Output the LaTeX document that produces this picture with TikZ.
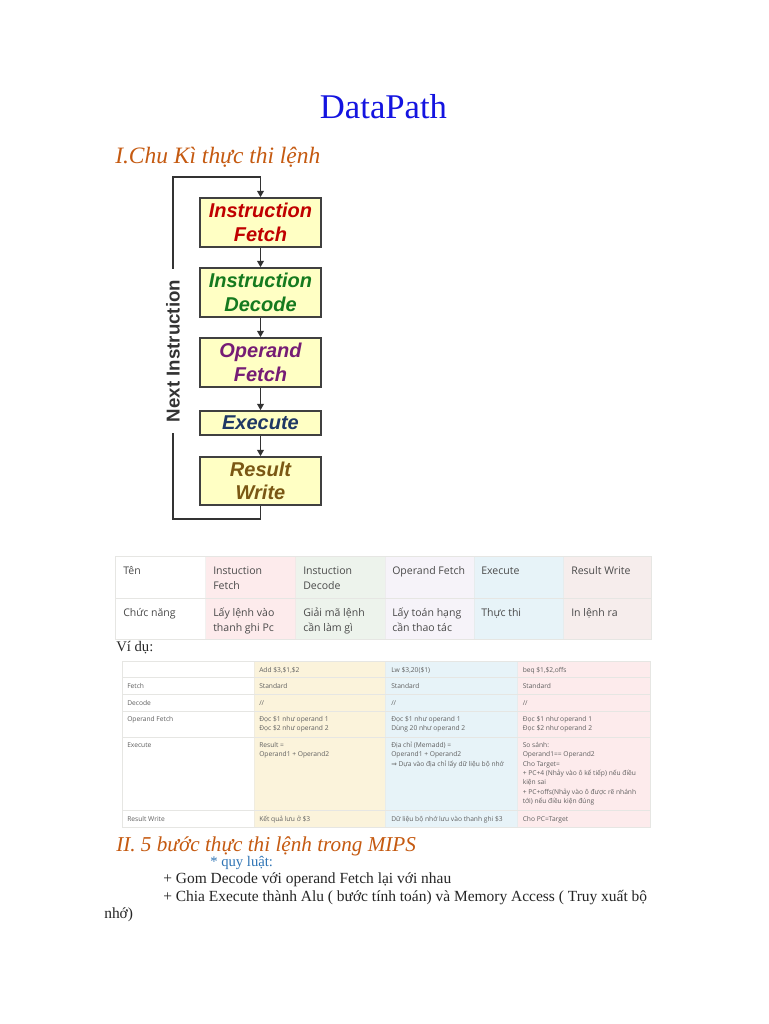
\documentclass[tikz,border=0pt]{standalone}
\usepackage{fontspec}
\setmainfont{Liberation Serif}
\newfontfamily\arialf{Liberation Sans}
\newfontfamily\tblf{Open Sans}
\newfontfamily\dejavuf{DejaVu Sans}
\usetikzlibrary{arrows.meta}
\definecolor{titleblue}{HTML}{1414E0}
\definecolor{headorange}{HTML}{C55A11}
\definecolor{quyblue}{HTML}{2E74B5}
\definecolor{boxfill}{HTML}{FFFFC4}
\definecolor{boxline}{HTML}{404040}
\definecolor{cIF}{HTML}{C00000}
\definecolor{cID}{HTML}{157A1F}
\definecolor{cOF}{HTML}{761C75}
\definecolor{cEX}{HTML}{1F3864}
\definecolor{cRW}{HTML}{7A5714}
\definecolor{flowgray}{HTML}{333333}
\definecolor{tred}{HTML}{FDEBEC}
\definecolor{tgreen}{HTML}{EDF3EC}
\definecolor{tpurple}{HTML}{F6F3F9}
\definecolor{tblue}{HTML}{E7F3F8}
\definecolor{tbrown}{HTML}{F6EDEC}
\definecolor{tyellow}{HTML}{FBF3DB}
\definecolor{gridc}{HTML}{E6E6E3}
\definecolor{tbltext}{HTML}{4A4A4A}
\definecolor{tbltextb}{HTML}{606060}
\tikzset{
  txt/.style={inner sep=0pt, anchor=base west},
  headstyle/.style={txt, text=headorange, font=\itshape\fontsize{16.5}{20}\selectfont},
  bodytxt/.style={txt, font=\fontsize{11.6}{14}\selectfont, text=black!85},
  stepbox/.style={draw=boxline, line width=1.2pt, fill=boxfill, minimum width=90.75pt,
    align=center, inner sep=0pt, font=\arialf\bfseries\itshape\fontsize{15}{17.6}\selectfont},
  flow/.style={draw=flowgray, line width=1.3pt, -{Triangle[length=4.8pt,width=5pt]}},
  loopline/.style={draw=flowgray, line width=1.3pt},
  tone/.style={txt, align=left, text=tbltext, font=\tblf\fontsize{7.9}{11.25}\selectfont},
  ttwo/.style={txt, align=left, text=tbltextb, font=\tblf\fontsize{5}{7}\selectfont},
  gridline/.style={draw=gridc, line width=0.6pt}
}
\begin{document}
\begin{tikzpicture}[x=0.75pt,y=-0.75pt]
\fill[white] (0,0) rectangle (768,1024);
\useasboundingbox (0,0) rectangle (768,1024);

% Title and heading
\node[inner sep=0pt, anchor=base, text=titleblue, font=\fontsize{26}{30}\selectfont] (title) at (383.5,118) {DataPath};
\node[headstyle, font=\itshape\fontsize{17.6}{21}\selectfont] (h1) at (115,163) {I.Chu Kì thực thi lệnh};

% Flowchart
\node[stepbox, minimum height=36.75pt, text=cIF] (IF) at (260.5,222.5) {Instruction\\Fetch};
\node[stepbox, minimum height=36.75pt, text=cID] (ID) at (260.5,292.5) {Instruction\\Decode};
\node[stepbox, minimum height=36.75pt, text=cOF] (OF) at (260.5,362.5) {Operand\\Fetch};
\node[stepbox, minimum height=18pt, text=cEX] (EX) at (260.5,423) {Execute};
\node[stepbox, minimum height=36pt, text=cRW] (RW) at (260.5,481) {Result\\Write};
\draw[flow] (IF) -- (ID);
\draw[flow] (ID) -- (OF);
\draw[flow] (OF) -- (EX);
\draw[flow] (EX) -- (RW);
\coordinate (lb) at (260.5,519);
\coordinate (lbl) at (173,519);
\coordinate (ltl) at (173,177);
\coordinate (lt) at (260.5,177);
\draw[loopline] (RW.south) -- (lb) -- (lbl) -- (ltl) -- (lt);
\draw[flow] (lt) -- (IF.north);
\node[rotate=90, fill=white, inner xsep=8pt, inner ysep=2pt, text=flowgray,
  font=\arialf\bfseries\fontsize{14}{16}\selectfont] (next) at (173,351) {Next Instruction};

% Table 1
\fill[tred] (205.5,556) rectangle (295.5,639);
\fill[tgreen] (295.5,556) rectangle (385,639);
\fill[tpurple] (385,556) rectangle (474,639);
\fill[tblue] (474,556) rectangle (563.5,639);
\fill[tbrown] (563.5,556) rectangle (651,639);
\draw[gridline] (115,556) rectangle (651,639);
\draw[gridline] (115,598) -- (651,598);
\foreach \cx in {205.5,295.5,385,474,563.5} { \draw[gridline, draw opacity=0.5] (\cx,556) -- (\cx,639); }
\node[tone] (a11) at (123,574) {Tên};
\node[tone] (a12) at (213,589) {Instuction\\Fetch};
\node[tone] (a13) at (303,589) {Instuction\\Decode};
\node[tone] (a14) at (392,574) {Operand Fetch};
\node[tone] (a15) at (481,574) {Execute};
\node[tone] (a16) at (571,574) {Result Write};
\node[tone] (a21) at (123,616) {Chức năng};
\node[tone] (a22) at (213,631) {Lấy lệnh vào\\thanh ghi Pc};
\node[tone] (a23) at (303,631) {Giải mã lệnh\\cần làm gì};
\node[tone] (a24) at (392,631) {Lấy toán hạng\\cần thao tác};
\node[tone] (a25) at (481,616) {Thực thi};
\node[tone] (a26) at (571,616) {In lệnh ra};

\node[bodytxt, font=\fontsize{11}{13}\selectfont] (vidu) at (116,651) {Ví dụ:};

% Table 2
\fill[tyellow] (254,661) rectangle (385,827.5);
\fill[tblue] (385,661) rectangle (517.5,827.5);
\fill[tred] (517.5,661) rectangle (650,827.5);
\draw[gridline] (122,661) rectangle (650,827.5);
\foreach \ry in {677.5,694,711,737,810} { \draw[gridline] (122,\ry) -- (650,\ry); }
\foreach \cx in {254,385,517.5} { \draw[gridline, draw opacity=0.5] (\cx,661) -- (\cx,827.5); }
\node[ttwo] (b01) at (259,672) {Add \$3,\$1,\$2};
\node[ttwo] (b02) at (391,672) {Lw \$3,20(\$1)};
\node[ttwo] (b03) at (522.5,672) {beq \$1,\$2,offs};
\node[ttwo] (b10) at (127,688.5) {Fetch};
\node[ttwo] (b11) at (259,688.5) {Standard};
\node[ttwo] (b12) at (391,688.5) {Standard};
\node[ttwo] (b13) at (522.5,688.5) {Standard};
\node[ttwo] (b20) at (127,705) {Decode};
\node[ttwo] (b21) at (259,705) {//};
\node[ttwo] (b22) at (391,705) {//};
\node[ttwo] (b23) at (522.5,705) {//};
\node[ttwo] (b30) at (127,721.5) {Operand Fetch};
\node[ttwo] (b31) at (259,730.8) {Đọc \$1 như operand 1\\Đọc \$2 như operand 2};
\node[ttwo] (b32) at (391,730.8) {Đọc \$1 như operand 1\\Dùng 20 như operand 2};
\node[ttwo] (b33) at (522.5,730.8) {Đọc \$1 như operand 1\\Đọc \$2 như operand 2};
\node[ttwo] (b40) at (127,747.5) {Execute};
\node[ttwo] (b41) at (259,756.8) {Result =\\Operand1 + Operand2};
\node[ttwo] (b42) at (391,766.2) {Địa chỉ (Memadd) =\\Operand1 + Operand2\\{\dejavuf ⇒} Dựa vào địa chỉ lấy dữ liệu bộ nhớ};
\node[ttwo] (b43) at (522.5,803.5) {So sánh:\\Operand1== Operand2\\Cho Target=\\+ PC+4 (Nhảy vào ô kế tiếp) nếu điều\\kiện sai\\+ PC+offs(Nhảy vào ô được rẽ nhánh\\tới) nếu điều kiện đúng};
\node[ttwo] (b50) at (127,821) {Result Write};
\node[ttwo] (b51) at (259,821) {Kết quả lưu ở \$3};
\node[ttwo] (b52) at (391,821) {Dữ liệu bộ nhớ lưu vào thanh ghi \$3};
\node[ttwo] (b53) at (522.5,821) {Cho PC=Target};

% Section II
\node[headstyle, font=\itshape\fontsize{15.9}{19}\selectfont] (h2) at (116,851) {II. 5 bước thực thi lệnh trong MIPS};
\node[bodytxt, text=quyblue, font=\fontsize{11}{13}\selectfont] (quy) at (210,866) {* quy luật:};
\node[bodytxt] (l1) at (163,883) {+ Gom Decode với operand Fetch lại với nhau};
\node[bodytxt] (l2) at (163,901) {+ Chia Execute thành Alu ( bước tính toán) và Memory Access ( Truy xuất bộ};
\node[bodytxt] (l3) at (104,918) {nhớ)};
\end{tikzpicture}
\end{document}
